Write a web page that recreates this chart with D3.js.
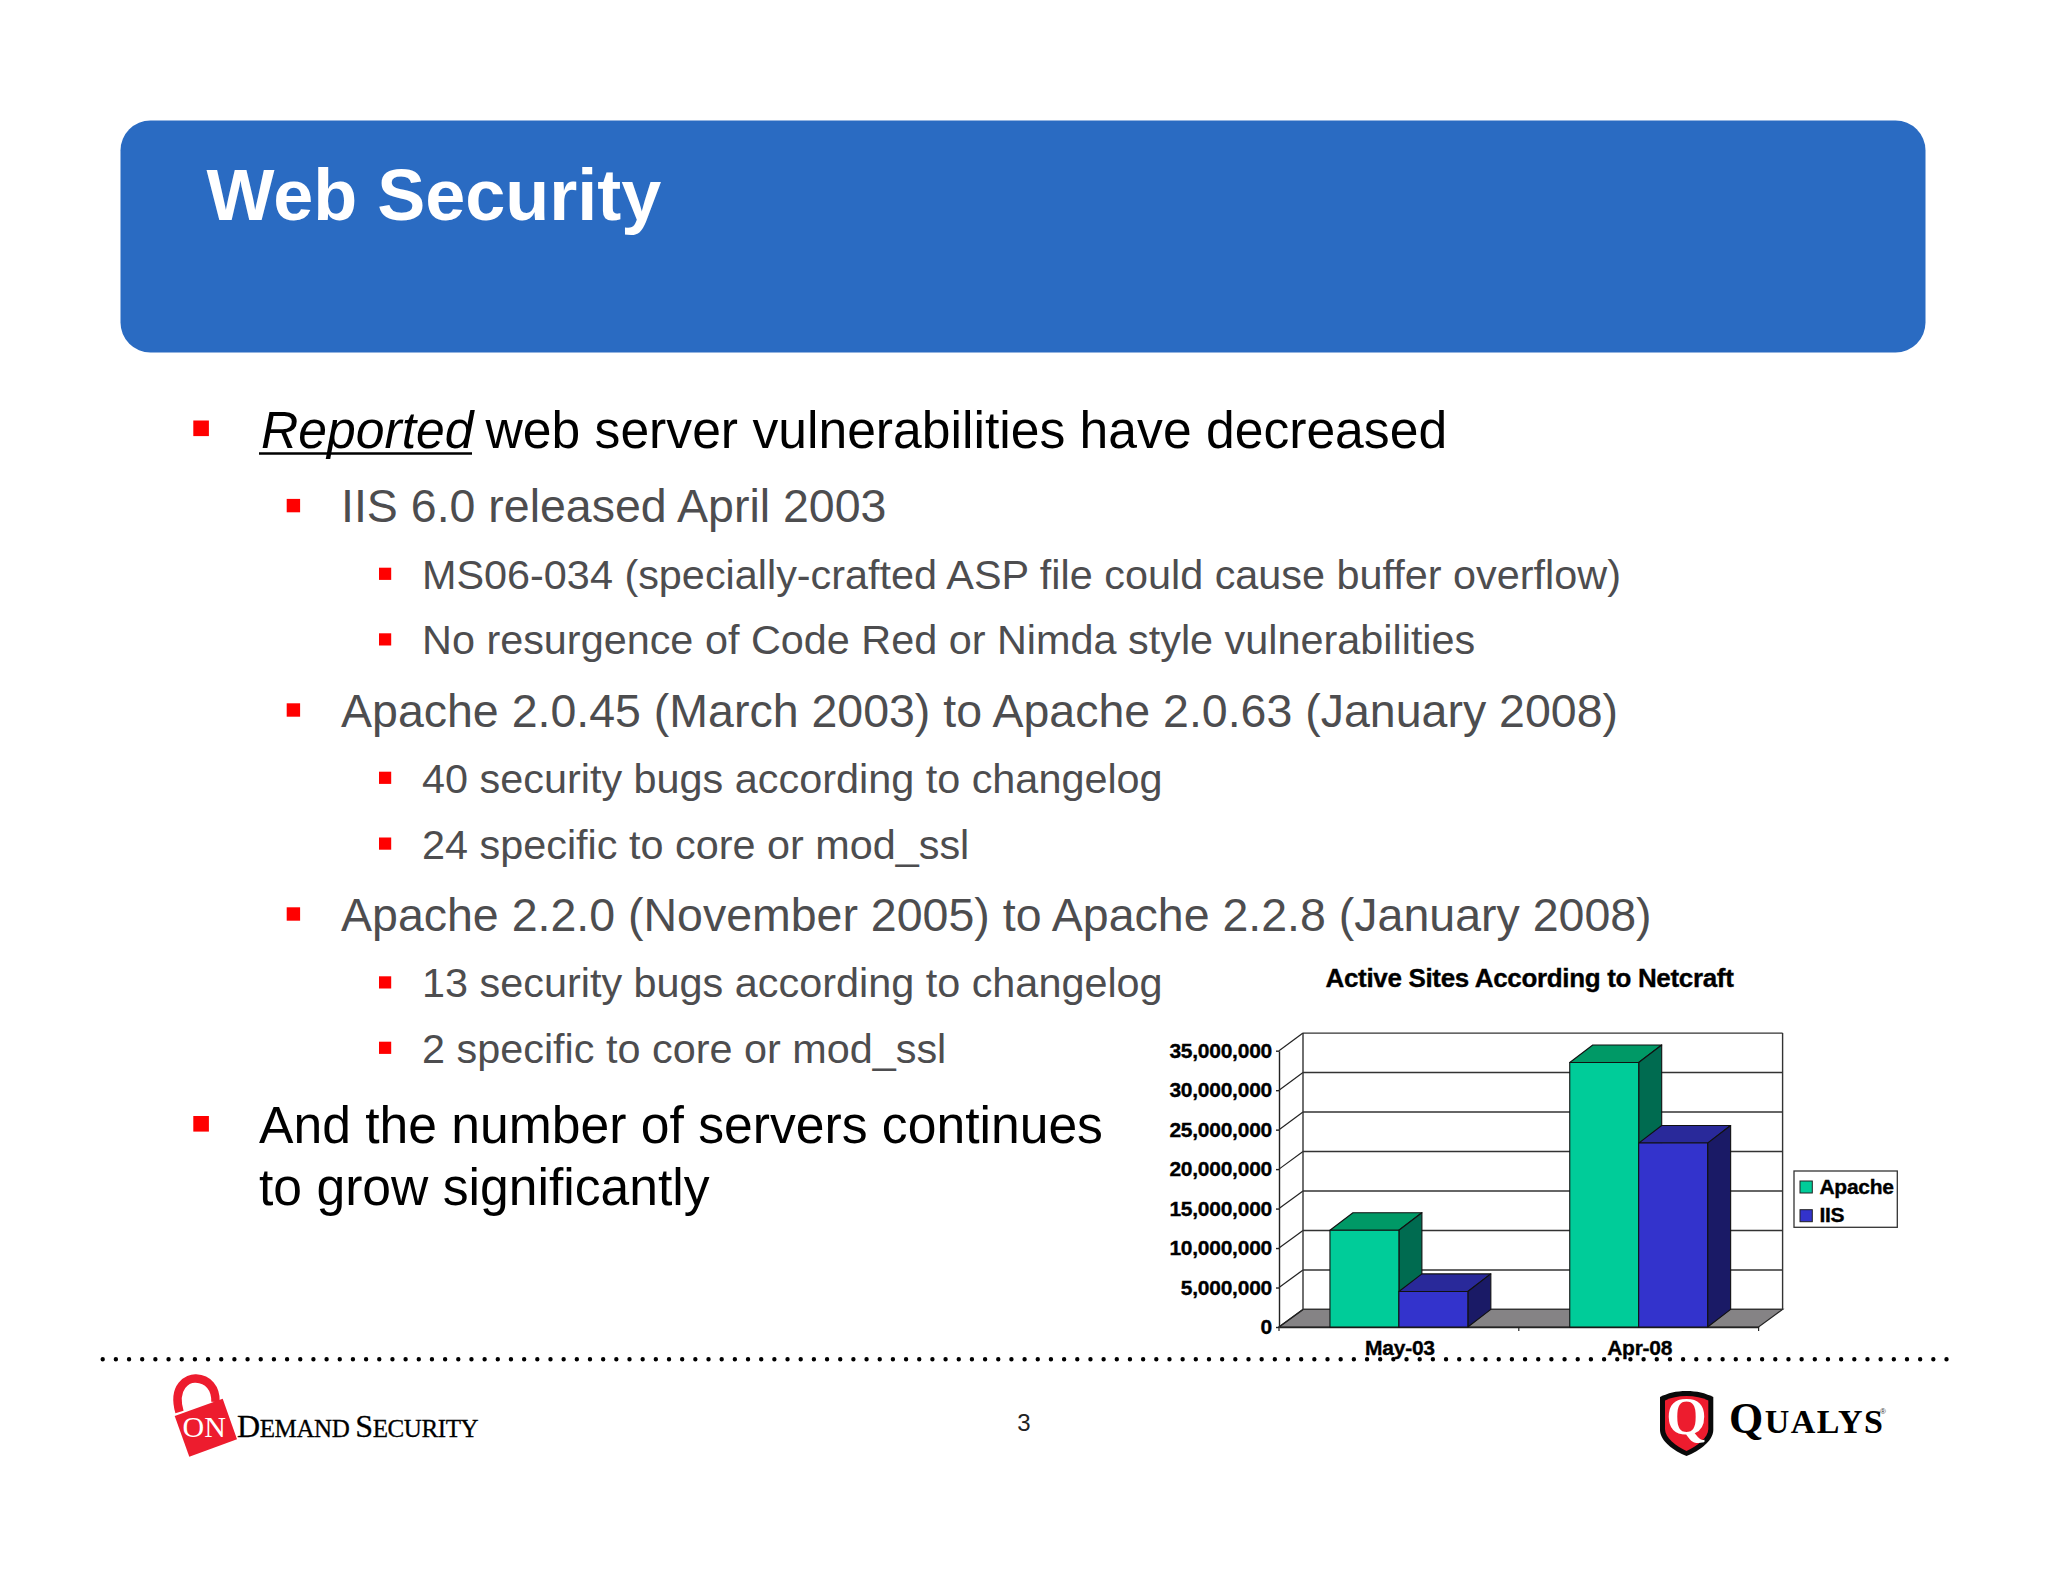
<!DOCTYPE html>
<html>
<head>
<meta charset="utf-8">
<title>Web Security</title>
<script src="https://cdn.jsdelivr.net/npm/d3@7"></script>
<style>
  html, body { margin: 0; padding: 0; background: #fff; }
  svg { display: block; font-family: "Liberation Sans", Arial, sans-serif; }
</style>
</head>
<body>
<div id="slide"></div>
<script>
// Chart values
const categories = ['May-03', 'Apr-08'];
const seriesNames = ['Apache', 'IIS'];
const apacheValues = [12250000, 33500000];
const iisValues = [4500000, 23300000];
const yTicks = [0, 5000000, 10000000, 15000000, 20000000, 25000000, 30000000, 35000000];

// Slide text
const bulletLevels = [1, 2, 3, 3, 2, 3, 3, 2, 3, 3, 1];
const bulletTexts = [
  'web server vulnerabilities have decreased',
  'IIS 6.0 released April 2003',
  'MS06-034 (specially-crafted ASP file could cause buffer overflow)',
  'No resurgence of Code Red or Nimda style vulnerabilities',
  'Apache 2.0.45 (March 2003) to Apache 2.0.63 (January 2008)',
  '40 security bugs according to changelog',
  '24 specific to core or mod_ssl',
  'Apache 2.2.0 (November 2005) to Apache 2.2.8 (January 2008)',
  '13 security bugs according to changelog',
  '2 specific to core or mod_ssl',
  'And the number of servers continues'
];

// Layout
const baselines = [447.5, 522.3, 588.7, 654.3, 726.7, 792.7, 858.5, 930.7, 997.3, 1062.7, 1143];
const levelStyle = {
  1: { size: 51.65, x: 259, color: '#000', bx: 193.3, bs: 15.6, off: 27 },
  2: { size: 46.5, x: 341, color: '#4d4d4f', bx: 286.7, bs: 13.4, off: 23.4 },
  3: { size: 41.38, x: 422, color: '#4d4d4f', bx: 379, bs: 12.2, off: 21 }
};
const seriesColors = {
  Apache: { front: '#00cc99', top: '#009966', side: '#006b50' },
  IIS: { front: '#3333cc', top: '#29299a', side: '#1a1a66' }
};
const red = '#ed1c2e';
const serif = '"Liberation Serif", serif';

const svg = d3.select('#slide')
  .append('svg')
  .attr('width', 2048)
  .attr('height', 1582);

svg.append('rect').attr('width', 2048).attr('height', 1582).attr('fill', '#fff');

// Header band
svg.append('rect')
  .attr('x', 120.5)
  .attr('y', 120.5)
  .attr('width', 1805)
  .attr('height', 232)
  .attr('rx', 30)
  .attr('fill', '#2a6bc2');

svg.append('text')
  .attr('x', 206.5)
  .attr('y', 219.5)
  .attr('font-size', 72)
  .attr('font-weight', 700)
  .attr('fill', '#fff')
  .text('Web Security');

// Bullet lines
bulletTexts.forEach((line, i) => {
  const s = levelStyle[bulletLevels[i]];
  const y = baselines[i];
  svg.append('rect')
    .attr('x', s.bx)
    .attr('y', y - s.off)
    .attr('width', s.bs)
    .attr('height', s.bs)
    .attr('fill', '#ff0000');
  svg.append('text')
    .attr('x', i === 0 ? 485.5 : s.x)
    .attr('y', y)
    .attr('font-size', s.size)
    .attr('fill', s.color)
    .text(line);
});

svg.append('text')
  .attr('x', 261)
  .attr('y', baselines[0])
  .attr('font-size', 51.65)
  .attr('font-style', 'italic')
  .attr('fill', '#000')
  .text('Reported');

svg.append('line')
  .attr('x1', 259)
  .attr('x2', 472)
  .attr('y1', 453.5)
  .attr('y2', 453.5)
  .attr('stroke', '#000')
  .attr('stroke-width', 2.4);

svg.append('text')
  .attr('x', 259)
  .attr('y', 1205)
  .attr('font-size', 51.65)
  .attr('fill', '#000')
  .text('to grow significantly');

// Dotted rule, drawn before the chart so the axis labels sit on top
svg.append('line')
  .attr('x1', 102.7)
  .attr('x2', 1947)
  .attr('y1', 1359.3)
  .attr('y2', 1359.3)
  .attr('stroke', '#000')
  .attr('stroke-width', 4.4)
  .attr('stroke-linecap', 'round')
  .attr('stroke-dasharray', '0 13.17');

// Set up scales
const depth = { x: 24, y: -17.6 };
const barDepth = { x: 23, y: -17.6 };

const x = d3.scaleBand()
  .domain(categories)
  .range([1279, 1758.6])
  .paddingInner(0.425)
  .paddingOuter(0.2125);

const xSeries = d3.scaleBand()
  .domain(seriesNames)
  .range([0, x.bandwidth()]);

const y = d3.scaleLinear()
  .domain([0, 35000000])
  .range([1327, 1050.7]);

const chart = svg.append('g');
const ink = '#222';

// Floor
const floorY = y(0) + depth.y;
chart.append('polygon')
  .attr('points', [[1279, y(0)], [1758.6, y(0)], [1758.6 + depth.x, floorY], [1279 + depth.x, floorY]].join(' '))
  .attr('fill', '#858385')
  .attr('stroke', ink)
  .attr('stroke-width', 1.2);

// Back wall gridlines and the slanted lines on the side wall
chart.selectAll('.grid')
  .data(yTicks)
  .enter()
  .append('line')
  .attr('class', 'grid')
  .attr('x1', 1279 + depth.x)
  .attr('x2', 1758.6 + depth.x)
  .attr('y1', d => y(d) + depth.y)
  .attr('y2', d => y(d) + depth.y)
  .attr('stroke', '#333')
  .attr('stroke-width', 1.4);

chart.selectAll('.slant')
  .data(yTicks)
  .enter()
  .append('line')
  .attr('class', 'slant')
  .attr('x1', 1279)
  .attr('x2', 1279 + depth.x)
  .attr('y1', d => y(d))
  .attr('y2', d => y(d) + depth.y)
  .attr('stroke', ink)
  .attr('stroke-width', 1.2);

[1279 + depth.x, 1758.6 + depth.x].forEach(wx => {
  chart.append('line')
    .attr('x1', wx)
    .attr('x2', wx)
    .attr('y1', y(35000000) + depth.y)
    .attr('y2', floorY)
    .attr('stroke', '#333')
    .attr('stroke-width', 1.4);
});

// Axes
chart.append('g')
  .attr('transform', 'translate(1279,0)')
  .call(d3.axisLeft(y).tickValues(yTicks).tickFormat(d3.format(',')).tickSize(3).tickPadding(4).tickSizeOuter(0));

const xAxis = chart.append('g')
  .attr('transform', `translate(0,${y(0)})`)
  .call(d3.axisBottom(x).tickSize(0).tickPadding(13));

xAxis.selectAll('.tick').attr('transform', d => `translate(${x(d) + x.bandwidth() / 2 + 1},0)`);

[0, 1, 2].forEach(i => {
  chart.append('line')
    .attr('x1', 1279 + i * x.step())
    .attr('x2', 1279 + i * x.step())
    .attr('y1', y(0))
    .attr('y2', y(0) + 4)
    .attr('stroke', ink)
    .attr('stroke-width', 1.2);
});

chart.selectAll('.domain, .tick line')
  .attr('stroke', ink)
  .attr('stroke-width', 1.4);

chart.selectAll('.tick text')
  .style('font-family', '"Liberation Sans", Arial, sans-serif')
  .attr('fill', '#000')
  .attr('stroke', '#000')
  .attr('stroke-width', 0.35)
  .attr('font-size', 21)
  .attr('font-weight', 700)
  .attr('letter-spacing', -0.25);

// Create bars
const barData = categories.flatMap((cat, i) => [
  { cat, series: 'Apache', value: apacheValues[i] },
  { cat, series: 'IIS', value: iisValues[i] }
]);

const bars = chart.selectAll('.bar')
  .data(barData)
  .enter()
  .append('g')
  .attr('class', 'bar')
  .attr('stroke', '#111')
  .attr('stroke-width', 1.1)
  .attr('stroke-linejoin', 'round');

const barLeft = d => x(d.cat) + xSeries(d.series);
const barRight = d => barLeft(d) + xSeries.bandwidth();

bars.append('polygon')
  .attr('points', d => [
    [barLeft(d), y(d.value)],
    [barRight(d), y(d.value)],
    [barRight(d) + barDepth.x, y(d.value) + barDepth.y],
    [barLeft(d) + barDepth.x, y(d.value) + barDepth.y]
  ].join(' '))
  .attr('fill', d => seriesColors[d.series].top);

bars.append('polygon')
  .attr('points', d => [
    [barRight(d), y(d.value)],
    [barRight(d) + barDepth.x, y(d.value) + barDepth.y],
    [barRight(d) + barDepth.x, y(0) + barDepth.y],
    [barRight(d), y(0)]
  ].join(' '))
  .attr('fill', d => seriesColors[d.series].side);

bars.append('rect')
  .attr('x', barLeft)
  .attr('y', d => y(d.value))
  .attr('width', xSeries.bandwidth())
  .attr('height', d => y(0) - y(d.value))
  .attr('fill', d => seriesColors[d.series].front);

// Chart title
svg.append('text')
  .attr('x', 1529.5)
  .attr('y', 986.5)
  .attr('text-anchor', 'middle')
  .attr('font-size', 26)
  .attr('font-weight', 700)
  .attr('letter-spacing', -0.34)
  .attr('stroke', '#000')
  .attr('stroke-width', 0.35)
  .attr('fill', '#000')
  .text('Active Sites According to Netcraft');

// Legend
const legend = svg.append('g');

legend.append('rect')
  .attr('x', 1794)
  .attr('y', 1171)
  .attr('width', 103.3)
  .attr('height', 56.3)
  .attr('fill', '#fff')
  .attr('stroke', '#333')
  .attr('stroke-width', 1.3);

seriesNames.forEach((name, i) => {
  const ly = 1181 + i * 28.7;
  legend.append('rect')
    .attr('x', 1800)
    .attr('y', ly)
    .attr('width', 12.3)
    .attr('height', 12)
    .attr('fill', seriesColors[name].front)
    .attr('stroke', '#222')
    .attr('stroke-width', 1);
  legend.append('text')
    .attr('x', 1819.5)
    .attr('y', ly + 12.5)
    .attr('font-size', 21)
    .attr('font-weight', 700)
    .attr('letter-spacing', -0.3)
    .attr('stroke', '#000')
    .attr('stroke-width', 0.35)
    .attr('fill', '#000')
    .text(name);
});

// Page number
svg.append('text')
  .attr('x', 1024)
  .attr('y', 1431)
  .attr('text-anchor', 'middle')
  .attr('font-size', 24)
  .attr('fill', '#222')
  .text('3');

// OnDemand Security logo
const left = svg.append('g');

left.append('path')
  .attr('d', 'M179.5,1412 C172,1386 188,1378 196,1378.5 C208,1379 216,1388 215.5,1402')
  .attr('fill', 'none')
  .attr('stroke', red)
  .attr('stroke-width', 8.5);

left.append('polygon')
  .attr('points', '174.7,1416 222.7,1398.7 237,1439.3 189.3,1456.7')
  .attr('fill', red);

left.append('text')
  .attr('x', 182.5)
  .attr('y', 1436.5)
  .style('font-family', serif)
  .attr('font-size', 30)
  .attr('fill', '#fff')
  .text('ON');

const demand = left.append('text')
  .attr('x', 237)
  .attr('y', 1436.7)
  .style('font-family', serif)
  .attr('letter-spacing', -0.4)
  .attr('stroke', '#000')
  .attr('stroke-width', 0.3)
  .attr('fill', '#000');

[['D', 32], ['EMAND ', 25], ['S', 32], ['ECURITY', 25]].forEach(([part, size]) => {
  demand.append('tspan').attr('font-size', size).text(part);
});

// Qualys logo
const right = svg.append('g');

const shield = 'M1686.5,1391 C1676,1391 1668,1393 1660,1397 L1660,1430 C1660,1441 1674,1451 1686.5,1456 C1699,1451 1713.3,1441 1713.3,1430 L1713.3,1397 C1705,1393 1697,1391 1686.5,1391 Z';

right.append('path').attr('d', shield).attr('fill', '#0a0a0a');

right.append('path')
  .attr('d', 'M1686.5,1396 C1678,1396 1671,1397.5 1665,1400.5 L1665,1429 C1665,1438 1676,1446 1686.5,1451 C1697,1446 1708.3,1438 1708.3,1429 L1708.3,1400.5 C1702,1397.5 1695,1396 1686.5,1396 Z')
  .attr('fill', red);

right.append('text')
  .attr('x', 1686.5)
  .attr('y', 1434)
  .attr('text-anchor', 'middle')
  .style('font-family', serif)
  .attr('font-size', 52)
  .attr('font-weight', 700)
  .attr('fill', '#fff')
  .text('Q');

const qualys = right.append('text')
  .attr('x', 1729)
  .attr('y', 1433.3)
  .style('font-family', serif)
  .attr('font-weight', 700)
  .attr('letter-spacing', 1.5)
  .attr('fill', '#000');

[['Q', 44], ['UALYS', 34]].forEach(([part, size]) => {
  qualys.append('tspan').attr('font-size', size).text(part);
});

right.append('text')
  .attr('x', 1880)
  .attr('y', 1414)
  .attr('font-size', 8)
  .attr('fill', '#333')
  .text('®');
</script>
</body>
</html>
